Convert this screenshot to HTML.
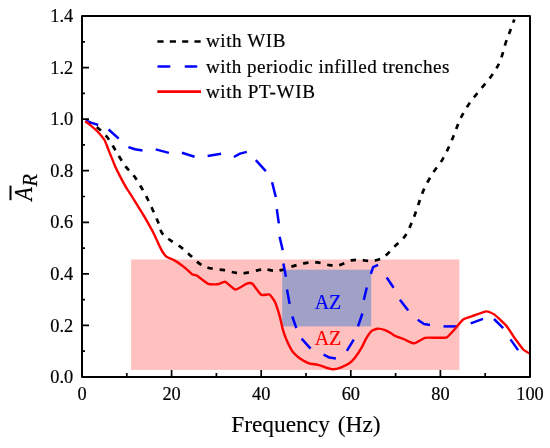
<!DOCTYPE html>
<html lang="en"><head><meta charset="utf-8"><title>Frequency response</title>
<style>
html,body{margin:0;padding:0;background:#fff;}
body{width:550px;height:448px;overflow:hidden;}
svg{display:block;}
text{font-family:"Liberation Serif","Times New Roman",serif;fill:#000;stroke:#000;stroke-width:0.2px;}
.tk{font-size:18.35px;}
.lg{font-size:19.1px;}
.ax{font-size:23.4px;stroke-width:0.12px;}
</style></head><body>
<svg width="550" height="448" viewBox="0 0 550 448">
<rect x="0" y="0" width="550" height="448" fill="#fff"/>
<rect x="131.1" y="259.5" width="328.3" height="110.4" fill="#ffc0c0"/>
<rect x="282.2" y="269.7" width="89" height="56.7" fill="#a1a1c8"/>
<path d="M85.3 121.0C86.1 121.4 87.8 122.4 90.0 123.6C92.2 124.8 95.3 125.9 98.2 128.2C101.1 130.5 104.3 133.4 107.3 137.3C110.3 141.2 113.4 147.0 116.4 151.8C119.4 156.7 122.5 162.4 125.5 166.4C128.4 170.4 130.7 171.1 134.1 176.0C137.5 180.9 142.1 188.4 146.1 196.1C150.1 203.8 155.5 216.0 158.2 222.2C160.8 228.3 160.0 230.0 162.0 233.0C164.0 236.0 166.7 237.5 170.0 240.0C173.3 242.5 178.6 245.4 182.1 248.1C185.6 250.8 188.1 253.4 191.1 256.1C194.1 258.8 197.0 262.1 200.2 264.1C203.4 266.1 206.2 267.2 210.2 268.2C214.2 269.2 220.0 269.4 224.3 270.2C228.7 271.0 232.6 272.4 236.3 272.8C240.0 273.2 242.6 273.2 246.3 272.8C250.0 272.4 255.3 270.8 258.4 270.2C261.5 269.6 262.6 269.0 265.0 269.1C267.4 269.2 270.4 270.5 273.1 270.7C275.8 270.9 277.8 270.9 281.1 270.1C284.5 269.3 289.2 267.3 293.2 266.1C297.2 264.9 301.2 263.7 305.2 263.1C309.2 262.5 313.2 262.1 317.2 262.4C321.2 262.7 325.6 264.7 329.3 265.1C333.0 265.6 335.6 265.9 339.3 265.1C343.0 264.3 347.8 261.2 351.4 260.4C355.0 259.5 358.1 259.9 361.0 260.0C363.9 260.1 366.3 261.0 369.0 261.0C371.7 261.0 374.4 260.8 377.1 260.0C379.8 259.2 382.2 258.3 385.1 256.0C388.0 253.7 391.4 249.7 394.7 246.4C398.0 243.1 402.0 240.3 404.9 236.2C407.8 232.1 410.0 226.7 412.2 221.6C414.4 216.5 416.1 210.9 418.0 205.6C419.9 200.3 421.4 194.9 423.8 189.6C426.2 184.3 429.4 178.7 432.5 173.6C435.6 168.5 439.8 163.9 442.7 159.1C445.6 154.2 447.8 149.3 450.0 144.5C452.2 139.7 454.0 134.5 455.8 130.0C457.6 125.5 458.7 122.0 461.0 117.5C463.3 113.0 466.3 107.8 469.7 102.9C473.1 98.1 477.4 93.2 481.3 88.4C485.2 83.6 489.8 78.5 492.9 73.9C496.0 69.3 498.0 66.1 500.2 60.8C502.4 55.5 504.3 47.0 506.0 41.9C507.7 36.8 509.0 34.0 510.4 30.3C511.8 26.6 513.6 21.3 514.3 19.5" fill="none" stroke="#000" stroke-width="2.7" stroke-dasharray="5.5 6.7" stroke-dashoffset="-0.85" stroke-linecap="butt" stroke-linejoin="round"/>
<path d="M85.6 120.4L91.0 122.6L98.2 125.0" fill="none" stroke="#0000ff" stroke-width="2.5" stroke-linecap="butt" stroke-linejoin="round"/>
<path d="M108.6 129.5L118.7 138.7" fill="none" stroke="#0000ff" stroke-width="2.5" stroke-linecap="butt" stroke-linejoin="round"/>
<path d="M128.4 147.1L135.0 149.3L142.5 150.5" fill="none" stroke="#0000ff" stroke-width="2.5" stroke-linecap="butt" stroke-linejoin="round"/>
<path d="M155.7 149.4L168.9 152.9" fill="none" stroke="#0000ff" stroke-width="2.5" stroke-linecap="butt" stroke-linejoin="round"/>
<path d="M181.9 152.7L194.6 156.7" fill="none" stroke="#0000ff" stroke-width="2.5" stroke-linecap="butt" stroke-linejoin="round"/>
<path d="M207.6 156.1L221.1 153.8" fill="none" stroke="#0000ff" stroke-width="2.5" stroke-linecap="butt" stroke-linejoin="round"/>
<path d="M233.9 157.0L240.0 153.6L246.8 151.9" fill="none" stroke="#0000ff" stroke-width="2.5" stroke-linecap="butt" stroke-linejoin="round"/>
<path d="M255.8 160.1L265.8 171.1" fill="none" stroke="#0000ff" stroke-width="2.5" stroke-linecap="butt" stroke-linejoin="round"/>
<path d="M272.1 182.2L275.8 197.0" fill="none" stroke="#0000ff" stroke-width="2.5" stroke-linecap="butt" stroke-linejoin="round"/>
<path d="M276.8 209.2L278.8 223.4" fill="none" stroke="#0000ff" stroke-width="2.5" stroke-linecap="butt" stroke-linejoin="round"/>
<path d="M279.6 236.8L282.7 250.1" fill="none" stroke="#0000ff" stroke-width="2.5" stroke-linecap="butt" stroke-linejoin="round"/>
<path d="M283.4 263.4L285.9 276.8" fill="none" stroke="#0000ff" stroke-width="2.5" stroke-linecap="butt" stroke-linejoin="round"/>
<path d="M287.0 289.5L289.6 303.9" fill="none" stroke="#0000ff" stroke-width="2.5" stroke-linecap="butt" stroke-linejoin="round"/>
<path d="M292.3 316.5L296.3 328.2" fill="none" stroke="#0000ff" stroke-width="2.5" stroke-linecap="butt" stroke-linejoin="round"/>
<path d="M301.6 338.7L310.6 348.7" fill="none" stroke="#0000ff" stroke-width="2.5" stroke-linecap="butt" stroke-linejoin="round"/>
<path d="M323.6 354.7L329.5 357.6L335.9 358.4" fill="none" stroke="#0000ff" stroke-width="2.5" stroke-linecap="butt" stroke-linejoin="round"/>
<path d="M346.9 350.8L353.7 339.6" fill="none" stroke="#0000ff" stroke-width="2.5" stroke-linecap="butt" stroke-linejoin="round"/>
<path d="M358.0 326.4L362.4 313.5" fill="none" stroke="#0000ff" stroke-width="2.5" stroke-linecap="butt" stroke-linejoin="round"/>
<path d="M363.8 299.9L366.8 287.5" fill="none" stroke="#0000ff" stroke-width="2.5" stroke-linecap="butt" stroke-linejoin="round"/>
<path d="M370.9 273.8L373.1 267.1L378.1 264.8" fill="none" stroke="#0000ff" stroke-width="2.5" stroke-linecap="butt" stroke-linejoin="round"/>
<path d="M386.7 277.5L393.6 287.7" fill="none" stroke="#0000ff" stroke-width="2.5" stroke-linecap="butt" stroke-linejoin="round"/>
<path d="M399.9 299.7L408.2 310.6" fill="none" stroke="#0000ff" stroke-width="2.5" stroke-linecap="butt" stroke-linejoin="round"/>
<path d="M417.7 319.8L424.0 324.0L430.0 325.1" fill="none" stroke="#0000ff" stroke-width="2.5" stroke-linecap="butt" stroke-linejoin="round"/>
<path d="M443.5 326.4L457.7 326.4" fill="none" stroke="#0000ff" stroke-width="2.5" stroke-linecap="butt" stroke-linejoin="round"/>
<path d="M470.7 323.3L483.0 318.8" fill="none" stroke="#0000ff" stroke-width="2.5" stroke-linecap="butt" stroke-linejoin="round"/>
<path d="M494.0 319.0L503.2 328.2" fill="none" stroke="#0000ff" stroke-width="2.5" stroke-linecap="butt" stroke-linejoin="round"/>
<path d="M510.5 339.4L518.1 350.1" fill="none" stroke="#0000ff" stroke-width="2.5" stroke-linecap="butt" stroke-linejoin="round"/>
<path d="M85.3 121.3C85.8 121.7 89.8 124.7 90.9 125.6C92.0 126.5 97.1 131.0 98.2 132.2C99.3 133.4 103.6 138.5 104.5 140.0C105.4 141.5 107.7 147.9 108.6 150.1C109.5 152.3 114.0 163.7 115.1 166.2C116.2 168.7 120.8 177.7 121.8 179.6C122.8 181.5 126.2 187.6 127.1 189.0C127.9 190.4 130.6 194.2 132.0 196.5C133.4 198.8 142.3 213.0 144.1 216.2C145.9 219.3 152.8 231.7 154.1 234.3C155.4 236.9 159.2 245.5 160.0 247.1C160.8 248.7 163.4 253.2 164.0 254.0C164.6 254.8 166.2 256.6 167.0 257.1C167.8 257.6 172.7 259.3 174.1 260.1C175.5 260.9 182.6 265.9 184.1 267.1C185.6 268.3 191.0 273.5 192.1 274.2C193.2 274.9 195.8 275.0 197.1 275.8C198.4 276.6 206.4 283.1 208.2 283.8C210.0 284.5 216.8 284.4 218.2 284.2C219.6 284.0 223.9 281.4 225.3 281.8C226.7 282.2 233.6 289.4 235.3 289.6C237.1 289.8 244.9 284.3 246.3 283.8C247.7 283.3 251.2 282.9 252.4 283.8C253.6 284.7 259.8 293.9 261.2 294.8C262.6 295.7 268.3 293.9 269.5 294.5C270.7 295.1 274.3 300.5 275.1 302.2C275.9 303.9 278.8 313.0 279.5 315.3C280.2 317.6 282.4 328.1 283.0 330.2C283.6 332.3 286.2 339.2 287.0 341.0C287.8 342.8 291.9 350.7 293.1 352.2C294.3 353.7 299.8 358.3 301.1 359.2C302.4 360.1 307.8 362.8 309.1 363.3C310.4 363.8 315.9 364.4 317.2 364.7C318.5 365.0 323.9 366.9 325.2 367.3C326.5 367.7 331.9 369.3 333.2 369.3C334.5 369.3 340.0 367.8 341.3 367.3C342.6 366.8 348.1 364.1 349.3 363.3C350.5 362.5 354.3 358.5 355.3 357.2C356.3 355.9 360.4 349.8 361.3 348.2C362.2 346.6 365.6 339.6 366.4 338.2C367.2 336.8 370.5 331.9 371.4 331.1C372.3 330.3 376.3 328.8 377.4 328.7C378.5 328.6 383.9 329.7 385.0 330.1C386.1 330.5 390.3 332.8 391.1 333.3C391.9 333.8 393.9 335.4 395.0 335.9C396.1 336.4 402.9 338.9 404.5 339.5C406.1 340.1 412.4 343.4 414.1 343.3C415.8 343.2 423.2 338.3 425.0 337.8C426.8 337.3 434.1 337.8 435.9 337.8C437.7 337.8 445.3 337.9 446.8 337.3C448.3 336.7 452.2 332.0 453.6 330.5C455.0 329.0 461.5 320.8 463.2 319.5C464.9 318.2 472.2 316.2 474.1 315.5C476.0 314.8 484.7 311.5 486.4 311.4C488.1 311.3 492.8 313.4 494.5 314.6C496.2 315.9 505.1 324.4 506.8 326.4C508.5 328.4 513.6 336.7 515.0 338.6C516.4 340.5 522.0 348.2 523.2 349.5C524.5 350.8 529.4 353.3 530.0 353.6" fill="none" stroke="#ff0000" stroke-width="2.4" stroke-linejoin="round" stroke-linecap="butt"/>
<path d="M82.0 377 V370 M126.8 377 V373 M171.6 377 V370 M216.4 377 V373 M261.2 377 V370 M306.0 377 V373 M350.8 377 V370 M395.6 377 V373 M440.4 377 V370 M485.2 377 V373 M530.0 377 V370 M82 377.0 H89 M82 351.2 H85 M82 325.4 H89 M82 299.6 H85 M82 273.9 H89 M82 248.1 H85 M82 222.3 H89 M82 196.5 H85 M82 170.7 H89 M82 144.9 H85 M82 119.1 H89 M82 93.4 H85 M82 67.6 H89 M82 41.8 H85 M82 16.0 H89" fill="none" stroke="#000" stroke-width="1.7"/>
<rect x="82" y="16" width="448" height="361" fill="none" stroke="#000" stroke-width="2" stroke-linejoin="round"/>
<text class="tk" x="82.0" y="399.6" text-anchor="middle">0</text>
<text class="tk" x="171.6" y="399.6" text-anchor="middle">20</text>
<text class="tk" x="261.2" y="399.6" text-anchor="middle">40</text>
<text class="tk" x="350.8" y="399.6" text-anchor="middle">60</text>
<text class="tk" x="440.4" y="399.6" text-anchor="middle">80</text>
<text class="tk" x="530.0" y="399.6" text-anchor="middle">100</text>
<text class="tk" x="73.2" y="383.1" text-anchor="end">0.0</text>
<text class="tk" x="73.2" y="331.5" text-anchor="end">0.2</text>
<text class="tk" x="73.2" y="280.0" text-anchor="end">0.4</text>
<text class="tk" x="73.2" y="228.4" text-anchor="end">0.6</text>
<text class="tk" x="73.2" y="176.8" text-anchor="end">0.8</text>
<text class="tk" x="73.2" y="125.2" text-anchor="end">1.0</text>
<text class="tk" x="73.2" y="73.7" text-anchor="end">1.2</text>
<text class="tk" x="73.2" y="22.1" text-anchor="end">1.4</text>
<text class="ax" x="305.9" y="432" text-anchor="middle" style="word-spacing:2px">Frequency (Hz)</text>
<g transform="translate(32.1,200.6) rotate(-90)"><text x="0" y="0" transform="scale(0.88,1)" style="font-size:24.6px;font-style:italic">A</text><text x="14.2" y="5.3" style="font-size:20.3px;font-style:italic">R</text><path d="M0.4 -21.6 H15" stroke="#000" stroke-width="2" fill="none"/></g>
<path d="M157.4 41.5 H201" stroke="#000" stroke-width="2.5" stroke-dasharray="6.2 6.15" fill="none"/>
<path d="M158.6 66.5 H169.2 M185.9 66.5 H196.1" stroke="#0000ff" stroke-width="2.7" stroke-linecap="round" fill="none"/>
<path d="M157.3 91.7 H201" stroke="#ff0000" stroke-width="2.8" fill="none"/>
<text class="lg" x="205.9" y="47.4" textLength="79.5" lengthAdjust="spacing">with WIB</text>
<text class="lg" x="205.9" y="72.5" textLength="243.5" lengthAdjust="spacing">with periodic infilled trenches</text>
<text class="lg" x="205.9" y="97.5" textLength="109" lengthAdjust="spacing">with PT-WIB</text>
<text x="328" y="308.7" text-anchor="middle" style="font-size:20px;fill:#0000ff;stroke:#0000ff">AZ</text>
<text x="328" y="345.2" text-anchor="middle" style="font-size:20px;fill:#ff0000;stroke:#ff0000">AZ</text>
</svg>
</body></html>
